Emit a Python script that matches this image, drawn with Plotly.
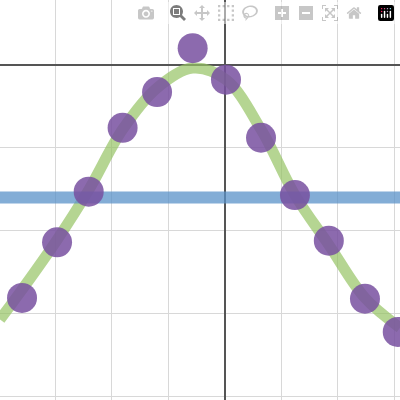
import plotly.graph_objects as go

# curve samples
curve_x = [-3.98, -3.59, -2.97, -2.41, -1.81, -1.20, -0.57, 0.02, 0.64, 1.24, 1.84, 2.48, 3.10]
curve_y = [-3.07, -2.71, -2.11, -1.51, -0.78, -0.28, -0.04, -0.18, -0.78, -1.57, -2.17, -2.81, -3.17]

# points
pts_x = [-3.59, -2.97, -2.41, -1.81, -1.20, -0.57, 0.02, 0.64, 1.24, 1.84, 2.48, 3.06]
pts_y = [-2.81, -2.14, -1.53, -0.76, -0.33, 0.20, -0.18, -0.88, -1.57, -2.12, -2.82, -3.22]

mid_y = -1.60
x_range = [-3.98, 3.10]
y_range = [-4.04, 0.78]

fig = go.Figure()
fig.add_trace(go.Scatter(x=curve_x, y=curve_y, mode="lines", line_shape="spline",
                         line=dict(color="rgba(150,195,100,0.7)", width=11)))
fig.add_trace(go.Scatter(x=x_range, y=[mid_y, mid_y], mode="lines",
                         line=dict(color="rgba(90,145,200,0.75)", width=12)))
fig.add_trace(go.Scatter(x=pts_x, y=pts_y, mode="markers", cliponaxis=False,
                         marker=dict(color="rgba(120,80,160,0.85)", size=30, line_width=0)))

fig.update_layout(
    width=400, height=400, margin=dict(l=0, r=0, t=0, b=0),
    plot_bgcolor="white", paper_bgcolor="white", showlegend=False,
)
fig.update_xaxes(range=x_range, dtick=1, tick0=0, gridcolor="#d8d8d8", gridwidth=1,
                 zeroline=True, zerolinecolor="#555", zerolinewidth=1.5,
                 showline=True, linecolor="#333", linewidth=3, showticklabels=False)
fig.update_yaxes(range=y_range, dtick=1, tick0=0, gridcolor="#d8d8d8", gridwidth=1,
                 zeroline=True, zerolinecolor="#555", zerolinewidth=1.5,
                 showline=True, linecolor="#333", linewidth=3, showticklabels=False)

fig.write_html("out.html", post_script="document.body.style.margin='0';")
